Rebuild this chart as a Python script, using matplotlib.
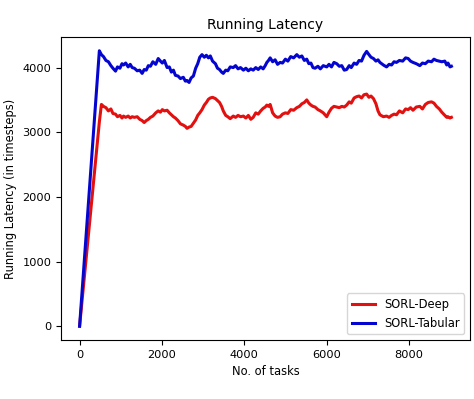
import matplotlib.pyplot as plt

# tasks (x) shared by both curves
tasks = [0, 480, 530, 580, 640, 700, 760, 810, 873, 920, 980, 1030, 1067, 1120, 1180,
         1230, 1277, 1330, 1400, 1460, 1520, 1570, 1620, 1670, 1721, 1780, 1850, 1910,
         1964, 2010, 2060, 2126, 2180, 2230, 2280, 2327, 2390, 2450, 2520, 2570, 2610,
         2660, 2710, 2765, 2820, 2870, 2920, 2974, 3030, 3080, 3130, 3176, 3230, 3300,
         3350, 3400, 3450, 3491, 3550, 3600, 3660, 3733, 3790, 3850, 3910, 3980, 4040,
         4100, 4160, 4218, 4280, 4340, 4400, 4460, 4510, 4550, 4590, 4630, 4690, 4750,
         4810, 4873, 4930, 5000, 5060, 5130, 5200, 5277, 5340, 5400, 5460, 5519, 5570,
         5620, 5670, 5721, 5790, 5850, 5920, 6004, 6060, 6120, 6180, 6247, 6310, 6370,
         6430, 6489, 6550, 6600, 6670, 6731, 6790, 6850, 6910, 6974, 7030, 7080, 7140,
         7200, 7250, 7297, 7380, 7458, 7520, 7580, 7640, 7700, 7770, 7850, 7920, 7983,
         8040, 8100, 8180, 8266, 8330, 8400, 8470, 8550, 8610, 8670, 8740, 8800, 8873,
         8920, 8950, 9000, 9034]

sorl_tabular = [0, 4260, 4200, 4170, 4110, 4090, 4030, 3990, 3945, 4010, 3990, 4060, 4040,
                4070, 4010, 4050, 4000, 3990, 3950, 3960, 3910, 3970, 3960, 4030, 4020,
                4090, 4050, 4140, 4100, 4070, 4110, 4000, 4010, 3930, 3960, 3880, 3870,
                3830, 3850, 3790, 3800, 3770, 3840, 3870, 3990, 4060, 4160, 4200, 4160,
                4190, 4150, 4180, 4100, 4060, 3990, 3970, 3930, 3910, 3960, 3950, 4010,
                4000, 4030, 3980, 4000, 3960, 3990, 3950, 3980, 3960, 4000, 3970, 4010,
                3980, 4030, 4080, 4110, 4150, 4090, 4120, 4050, 4080, 4070, 4130, 4100,
                4170, 4150, 4200, 4160, 4180, 4110, 4130, 4060, 4070, 4000, 3990, 4020,
                3980, 4030, 4010, 4050, 4010, 4080, 4060, 4020, 4030, 3960, 3970, 4030,
                4000, 4070, 4050, 4110, 4100, 4190, 4250, 4200, 4160, 4140, 4100, 4120,
                4080, 4040, 4010, 4050, 4040, 4090, 4080, 4110, 4100, 4150, 4140, 4100,
                4080, 4060, 4030, 4070, 4060, 4100, 4090, 4130, 4110, 4100, 4090, 4100,
                4040, 4070, 4010, 4020]

sorl_deep = [0, 3160, 3430, 3400, 3380, 3330, 3360, 3290, 3280, 3240, 3260, 3220, 3250,
             3230, 3250, 3220, 3240, 3230, 3240, 3200, 3180, 3150, 3180, 3200, 3230, 3250,
             3300, 3330, 3310, 3350, 3330, 3340, 3300, 3270, 3240, 3220, 3180, 3130, 3110,
             3090, 3060, 3080, 3090, 3140, 3190, 3260, 3300, 3350, 3420, 3460, 3510, 3530,
             3540, 3520, 3490, 3460, 3400, 3330, 3260, 3240, 3210, 3250, 3230, 3260, 3240,
             3250, 3220, 3260, 3200, 3230, 3300, 3280, 3330, 3370, 3390, 3420, 3400, 3430,
             3300, 3250, 3230, 3240, 3280, 3300, 3290, 3350, 3340, 3380, 3400, 3440, 3460,
             3500, 3450, 3420, 3400, 3390, 3350, 3330, 3300, 3240, 3310, 3370, 3400, 3390,
             3380, 3400, 3390, 3420, 3470, 3450, 3530, 3550, 3560, 3530, 3580, 3590, 3540,
             3560, 3520, 3440, 3330, 3270, 3240, 3250, 3230, 3260, 3280, 3270, 3330, 3300,
             3360, 3350, 3380, 3340, 3390, 3400, 3360, 3430, 3460, 3470, 3450, 3400, 3360,
             3310, 3260, 3230, 3240, 3220, 3230]

labels = ['SORL-Deep', 'SORL-Tabular']

fig = plt.figure(figsize=(4.74, 3.99), dpi=100)
ax = fig.add_axes([0.1287, 0.1479, 0.8629, 0.7594])

ax.plot(tasks, sorl_deep, color='#e31010', linewidth=2.2, label=labels[0])
ax.plot(tasks, sorl_tabular, color='#0505d0', linewidth=2.2, label=labels[1])

ax.set_title('Running Latency', fontsize=10)
ax.set_xlabel('No. of tasks', fontsize=8.3)
ax.set_ylabel('Running Latency (in timesteps)', fontsize=8.3)
ax.set_xticks([0, 2000, 4000, 6000, 8000])
ax.set_yticks([0, 1000, 2000, 3000, 4000])
ax.tick_params(labelsize=8.2)
ax.legend(loc='lower right', fontsize=8.3)

fig.savefig('out.png', dpi=100)
